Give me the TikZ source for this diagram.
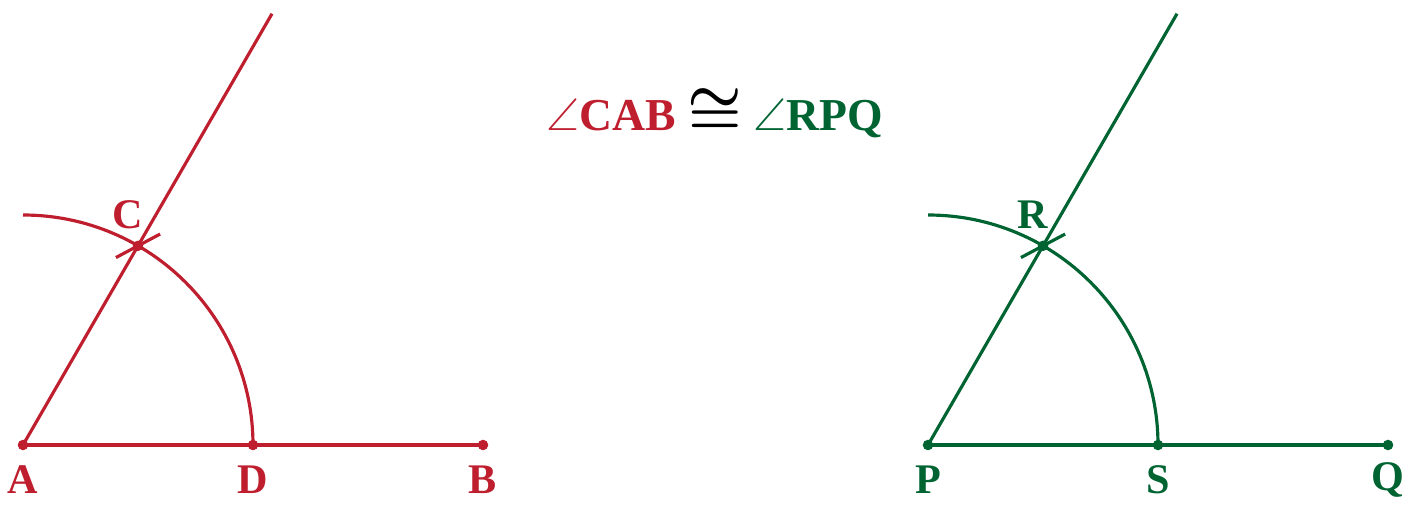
\documentclass[tikz,border=0pt]{standalone}
\usepackage{amssymb}
\usepackage{amsmath}
\usepackage{fontspec}
\setmainfont{Liberation Serif}
\usetikzlibrary{calc}
\definecolor{redc}{RGB}{190,30,45}
\definecolor{greenc}{RGB}{0,100,50}
\begin{document}
\begin{tikzpicture}[line width=1.8pt]
\tikzstyle{pt}=[circle,fill,inner sep=0pt,minimum size=6pt]
\tikzstyle{lbl}=[font=\fontsize{24}{28}\selectfont\bfseries]
\useasboundingbox (0,0) rectangle (28.5,10.18);
% left angle
\begin{scope}[redc]
\node[pt] (A) at (0.46,1.28) {};
\node[pt] (D) at (5.06,1.28) {};
\node[pt] (B) at (9.66,1.28) {};
\node[pt] (C) at ($(A)+(60:4.6)$) {};
\coordinate (E) at ($(A)+(60:9.96)$);
\draw (A.center) -- (B.center);
\draw (A.center) -- (E);
\draw (D.center) arc (0:90:4.6);
\draw ($(C)+(208:0.5)$) -- ($(C)+(28:0.5)$);
\node[lbl] at (0.46,0.58) {A};
\node[lbl] at (5.06,0.58) {D};
\node[lbl] at (9.66,0.58) {B};
\node[lbl] at (2.56,5.88) {C};
\end{scope}
% right angle
\begin{scope}[greenc]
\node[pt] (P) at (18.56,1.28) {};
\node[pt] (S) at (23.16,1.28) {};
\node[pt] (Q) at (27.76,1.28) {};
\node[pt] (R) at ($(P)+(60:4.6)$) {};
\coordinate (F) at ($(P)+(60:9.96)$);
\draw (P.center) -- (Q.center);
\draw (P.center) -- (F);
\draw (S.center) arc (0:90:4.6);
\draw ($(R)+(208:0.5)$) -- ($(R)+(28:0.5)$);
\node[lbl] at (18.56,0.58) {P};
\node[lbl] at (23.16,0.58) {S};
\node[lbl] at (27.76,0.58) {Q};
\node[lbl] at (20.66,5.88) {R};
\end{scope}
% title
\node[lbl,font=\fontsize{26}{30}\selectfont\bfseries] (title) at (14.3,7.92) {\textcolor{redc}{$\angle$CAB} \raisebox{-2pt}{\scalebox{1.4}{$\boldsymbol{\cong}$}} \textcolor{greenc}{$\angle$RPQ}};
\end{tikzpicture}
\end{document}
